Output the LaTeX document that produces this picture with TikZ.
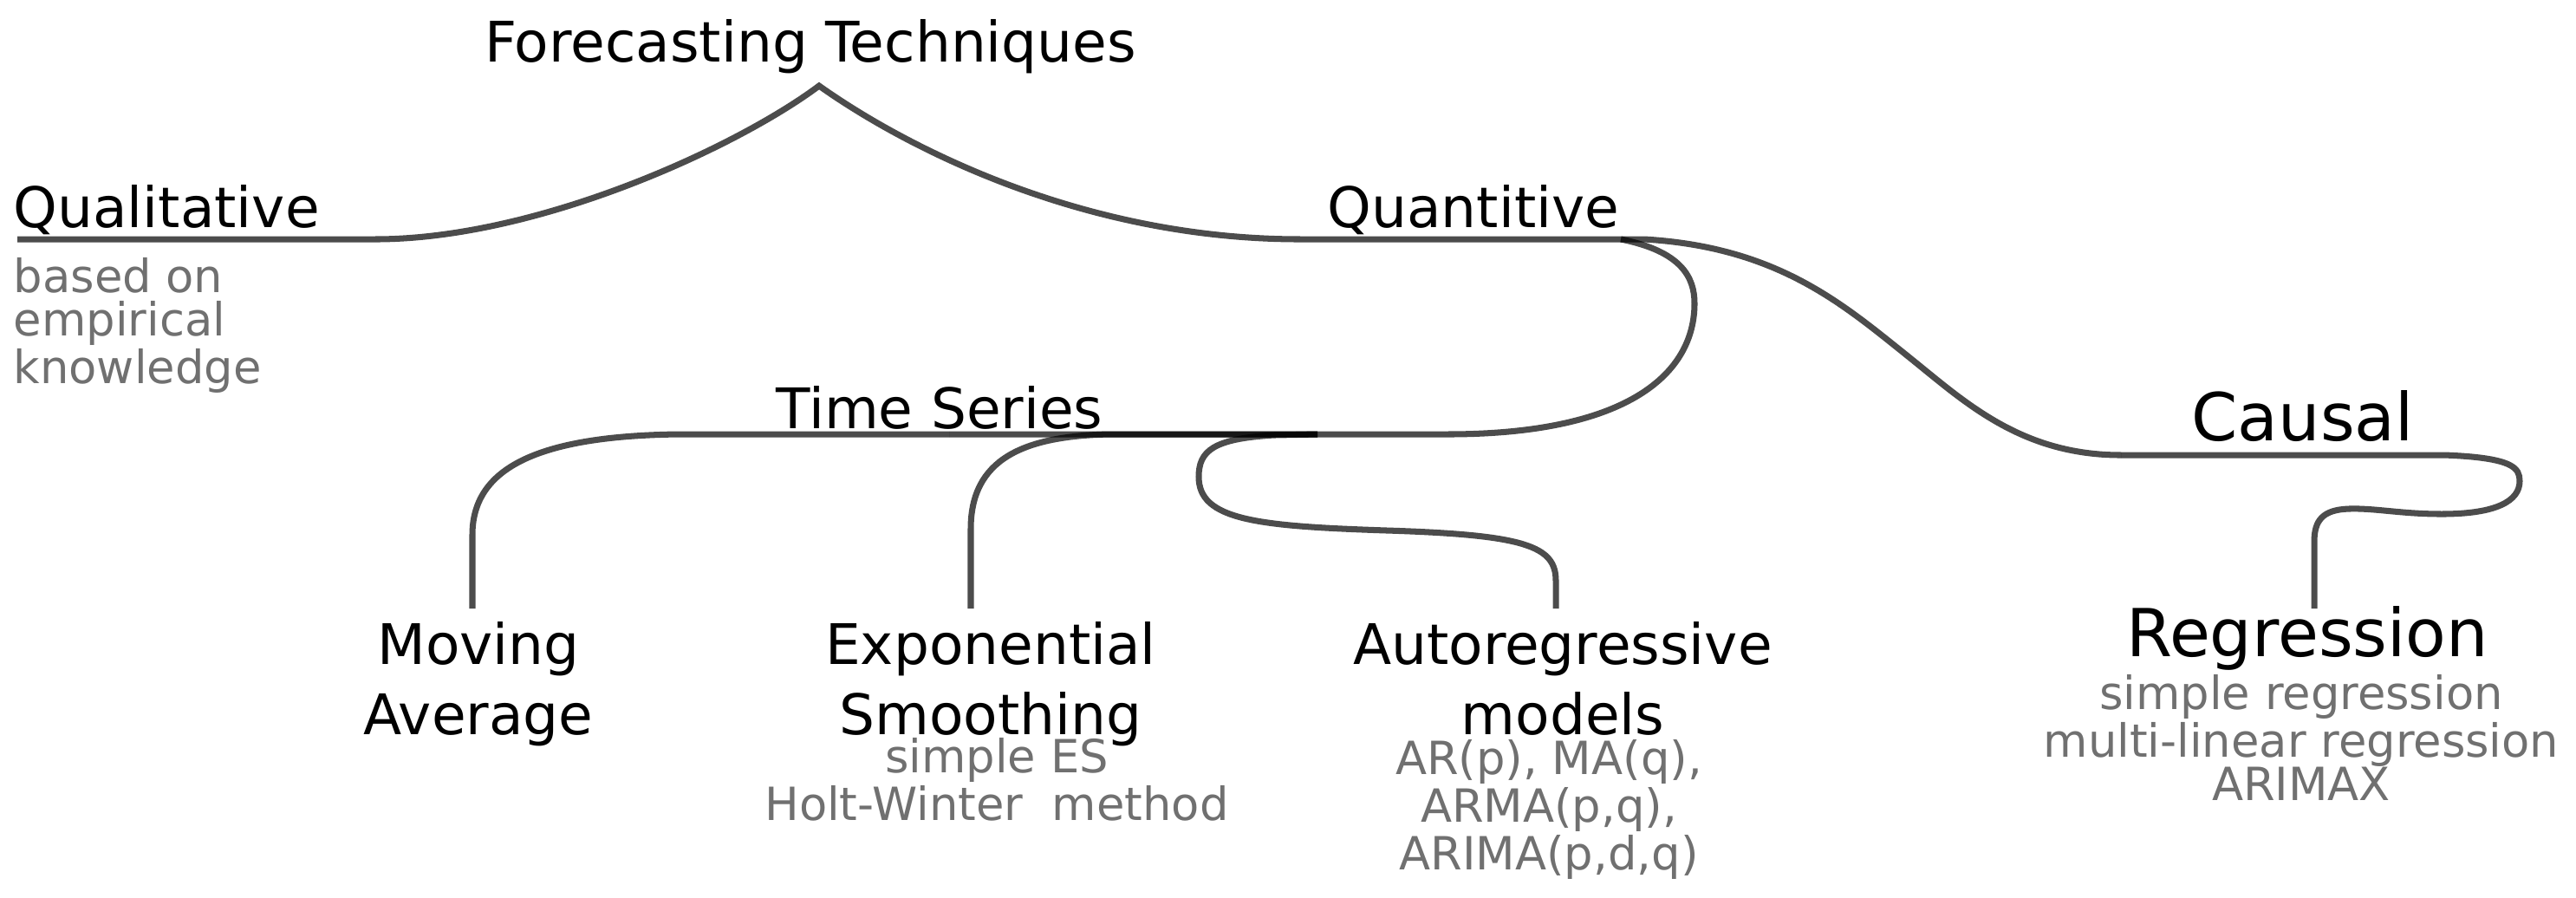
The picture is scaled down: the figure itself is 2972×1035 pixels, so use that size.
\documentclass[tikz,border=0pt]{standalone}
\usepackage{fontspec}
\setmainfont{DejaVu Sans}
\begin{document}
\begin{tikzpicture}[x=0.01cm,y=-0.01cm,
  conn/.style={draw=black, draw opacity=0.7, line width=2pt},
  lbl/.style={inner sep=0pt, text=black, font=\fontsize{18.35pt}{22.8pt}\selectfont},
  biglbl/.style={inner sep=0pt, text=black, font=\fontsize{21.7pt}{26pt}\selectfont},
  sublbl/.style={inner sep=0pt, text=subgrey, font=\fontsize{15pt}{14.2pt}\selectfont}]
\definecolor{subgrey}{HTML}{707070}
\useasboundingbox (0,0) rectangle (2972,1035);

% labels (multi-line nodes: base anchor = baseline of last line)
\node[lbl, anchor=base] (ft) at (935,71) {Forecasting Techniques};
\node[lbl, anchor=base west] (ql) at (15,262) {Qualitative};
\node[sublbl, anchor=base west, align=left] (qlsub) at (15,442) {based on\\empirical\\knowledge};
\node[lbl, anchor=base west] (qn) at (1531,262) {Quantitive};
\node[lbl, anchor=base west] (ts) at (895,494) {Time Series};
\node[biglbl, anchor=base west] (cs) at (2528,508) {Causal};
\node[lbl, align=center, anchor=base] (ma) at (552,847) {Moving\\Average};
\node[lbl, align=center, anchor=base] (es) at (1143,847) {Exponential\\Smoothing};
\node[sublbl, align=center, anchor=base] (essub) at (1150,946) {simple ES\\Holt-Winter\ \ method};
\node[lbl, align=center, anchor=base] (ar) at (1803,847) {Autoregressive\\models};
\node[sublbl, align=center, anchor=base] (arsub) at (1787,1003) {AR(p), MA(q),\\ARMA(p,q),\\ARIMA(p,d,q)};
\node[biglbl, anchor=base] (rg) at (2662,757) {Regression};
\node[sublbl, align=center, anchor=base] (rgsub) at (2655,923) {simple regression\\multi-linear regression\\ARIMAX};

% connector end points
\coordinate (qlStart) at (20,276);
\coordinate (peak) at (945,99);
\coordinate (qnEnd) at (1870,276);
\coordinate (tsLeft) at (1095,501);
\coordinate (tsRight) at (1520,501);
\coordinate (maTop) at (545,702);
\coordinate (esTop) at (1120,702);
\coordinate (arTop) at (1795,702);
\coordinate (csLine) at (2447,525);
\coordinate (rgTop) at (2670,702);

% Qualitative -- Forecasting Techniques -- Quantitive
\draw[conn] (qlStart) -- (433,276) .. controls (620,276) and (850,170) .. (peak)
  .. controls (1045,170) and (1250,276) .. (1500,276) -- (qnEnd);
% Quantitive -> Time Series
\draw[conn] (qnEnd) .. controls (1940,290) and (1955,320) .. (1955,350)
  .. controls (1955,430) and (1880,501) .. (1670,501) -- (tsLeft);
% Time Series -> Moving Average
\draw[conn] (maTop) -- (545,617) .. controls (545,540) and (620,503) .. (783,501) -- (tsLeft);
% Time Series -> Exponential Smoothing
\draw[conn] (esTop) -- (1120,610) .. controls (1120,530) and (1180,503) .. (1280,501) -- (tsRight);
% Time Series -> Autoregressive
\draw[conn] (tsRight) -- (1470,502) .. controls (1400,506) and (1383,520) .. (1383,550)
  .. controls (1383,600) and (1450,607) .. (1600,612)
  .. controls (1760,617) and (1795,630) .. (1795,670) -- (arTop);
% Quantitive -> Causal
\draw[conn] (qnEnd) -- (1897,276) .. controls (2050,285) and (2125,350) .. (2200,410)
  .. controls (2265,462) and (2330,525) .. (csLine);
% Causal -> Regression
\draw[conn] (csLine) -- (2820,525) .. controls (2900,528) and (2907,540) .. (2907,555)
  .. controls (2907,578) and (2880,593) .. (2817,593)
  .. controls (2770,593) and (2740,586) .. (2710,587)
  .. controls (2680,588) and (2670,600) .. (2670,625) -- (rgTop);
\end{tikzpicture}
\end{document}
